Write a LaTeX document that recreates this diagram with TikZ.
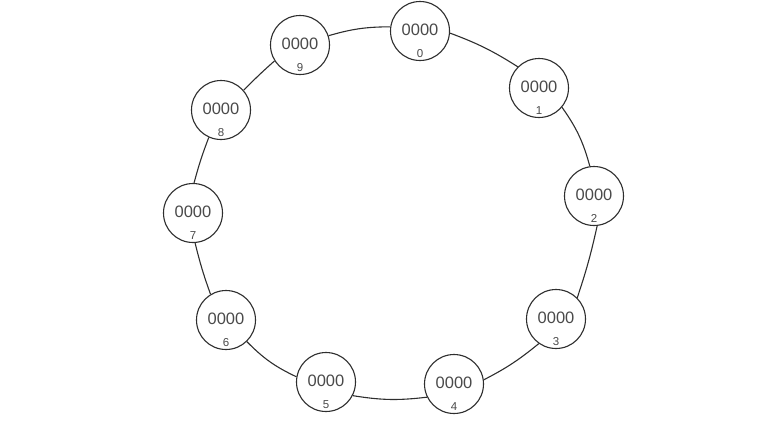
\documentclass[tikz,border=0pt]{standalone}
\usepackage{fontspec}
\setmainfont{Liberation Sans}
\definecolor{ink}{HTML}{2E2E2E}
\definecolor{txt}{HTML}{4A4A4A}
\begin{document}
\begin{tikzpicture}[x=1pt,y=-1pt,
  ringnode/.style={circle, draw=ink, line width=1.1pt, fill=white, minimum size=59pt, inner sep=0pt,
    text=txt, font=\fontsize{16.5}{16.5}\selectfont},
  numlabel/.style={text=txt, font=\fontsize{11.5}{11.5}\selectfont, inner sep=0pt, anchor=center, yshift=-22.5pt},
  link/.style={draw=ink, line width=1.1pt}]
\useasboundingbox (0,0) rectangle (768,432);
\node[ringnode, label={[numlabel]center:0}] (n0) at (420,31) {\raisebox{2pt}{0000}};
\node[ringnode, label={[numlabel]center:1}] (n1) at (539,88) {\raisebox{2pt}{0000}};
\node[ringnode, label={[numlabel]center:2}] (n2) at (594,196) {\raisebox{2pt}{0000}};
\node[ringnode, label={[numlabel]center:3}] (n3) at (556,319) {\raisebox{2pt}{0000}};
\node[ringnode, label={[numlabel]center:4}] (n4) at (454,384) {\raisebox{2pt}{0000}};
\node[ringnode, label={[numlabel]center:5}] (n5) at (326,382) {\raisebox{2pt}{0000}};
\node[ringnode, label={[numlabel]center:6}] (n6) at (226,320) {\raisebox{2pt}{0000}};
\node[ringnode, label={[numlabel]center:7}] (n7) at (193,213) {\raisebox{2pt}{0000}};
\node[ringnode, label={[numlabel]center:8}] (n8) at (221,110) {\raisebox{2pt}{0000}};
\node[ringnode, label={[numlabel]center:9}] (n9) at (300,45) {\raisebox{2pt}{0000}};
\draw[link] (n0.-4) to[bend left=6] (n1.135);
\draw[link] (n1.-40) to[bend left=10] (n2.98);
\draw[link] (n2.-84) to[bend left=3] (n3.45);
\draw[link] (n3.235) to[bend left=6] (n4.8);
\draw[link] (n4.206) to[bend left=8] (n5.-27);
\draw[link] (n5.170) to[bend left=10] (n6.-46);
\draw[link] (n6.121) to[bend left=3] (n7.-86);
\draw[link] (n7.88) to[bend left=3] (n8.246);
\draw[link] (n8.41) to[bend left=2] (n9.212);
\draw[link] (n9.18) to[bend left=8] (n0.172);
\end{tikzpicture}
\end{document}
